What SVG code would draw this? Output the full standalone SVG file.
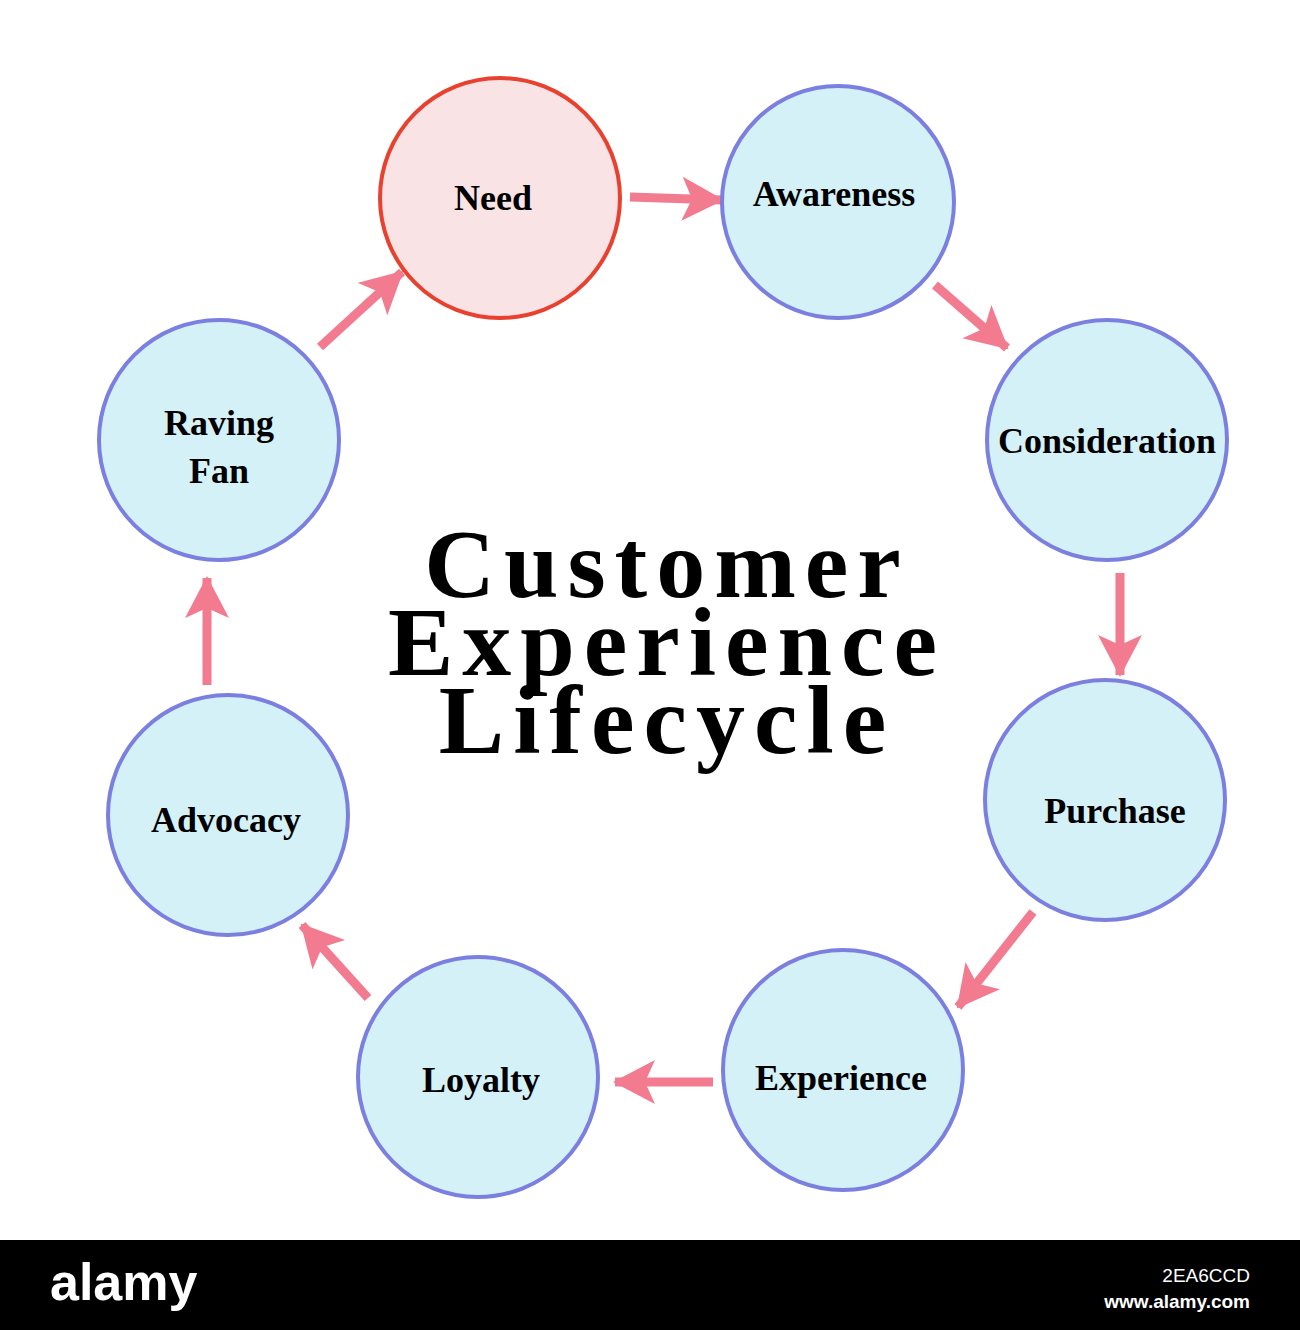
<svg xmlns="http://www.w3.org/2000/svg" width="1300" height="1330" viewBox="0 0 1300 1330">
<style>
.n{fill:#d5f1f8;stroke:#7b7fe0;stroke-width:4}
.r{fill:#f9e3e4;stroke:#e8412f;stroke-width:4}
.t{font-family:"Liberation Serif",serif;font-weight:bold;font-size:36px;text-anchor:middle;fill:#000}
.h{font-family:"Liberation Serif",serif;font-weight:bold;font-size:98px;text-anchor:middle;fill:#000;letter-spacing:9px}
.a{stroke:#f27b90;stroke-width:9;fill:none;marker-end:url(#ah)}
</style>
<defs>
<marker id="ah" markerUnits="userSpaceOnUse" markerWidth="50" markerHeight="50" refX="40" refY="22" orient="auto">
<path d="M0,0 L42,22 L0,44 L10,22 Z" fill="#f27b90"/>
</marker>
</defs>
<rect width="1300" height="1330" fill="#fff"/>
<g id="connectors">
<line class="a" x1="630" y1="197" x2="722" y2="200"/>
<line class="a" x1="935" y1="285" x2="1007" y2="348"/>
<line class="a" x1="1120" y1="573" x2="1120" y2="675"/>
<line class="a" x1="1033" y1="912" x2="958" y2="1007"/>
<line class="a" x1="713" y1="1082" x2="615" y2="1082"/>
<line class="a" x1="368" y1="998" x2="302" y2="925"/>
<line class="a" x1="207" y1="685" x2="207" y2="578"/>
<line class="a" x1="320" y1="347" x2="402" y2="272"/>
</g>
<g id="need"><circle class="r" cx="500" cy="198" r="120"/><text class="t" x="493" y="210">Need</text></g>
<g id="awareness"><circle class="n" cx="838" cy="202" r="116"/><text class="t" x="834" y="206">Awareness</text></g>
<g id="consideration"><circle class="n" cx="1107" cy="440" r="120"/><text class="t" x="1107" y="453">Consideration</text></g>
<g id="purchase"><circle class="n" cx="1105" cy="800" r="120"/><text class="t" x="1115" y="823">Purchase</text></g>
<g id="experience"><circle class="n" cx="843" cy="1070" r="120"/><text class="t" x="841" y="1090">Experience</text></g>
<g id="loyalty"><circle class="n" cx="478" cy="1077" r="120"/><text class="t" x="481" y="1092">Loyalty</text></g>
<g id="advocacy"><circle class="n" cx="228" cy="815" r="120"/><text class="t" x="226" y="832">Advocacy</text></g>
<g id="ravingfan"><circle class="n" cx="219" cy="440" r="120"/><text class="t" x="219" y="435">Raving</text><text class="t" x="219" y="483">Fan</text></g>
<g id="title">
<text class="h" x="667" y="597">Customer</text>
<text class="h" x="667" y="675">Experience</text>
<text class="h" x="667" y="753">Lifecycle</text>
</g>
<g id="footer">
<rect x="0" y="1240" width="1300" height="90" fill="#000"/>
<text x="50" y="1300" font-family="Liberation Sans,sans-serif" font-weight="bold" font-size="52" fill="#fff">alamy</text>
<text x="1250" y="1282" font-family="Liberation Sans,sans-serif" font-size="19" fill="#fff" text-anchor="end">2EA6CCD</text>
<text x="1250" y="1308" font-family="Liberation Sans,sans-serif" font-weight="bold" font-size="19" fill="#fff" text-anchor="end">www.alamy.com</text>
</g>
</svg>
